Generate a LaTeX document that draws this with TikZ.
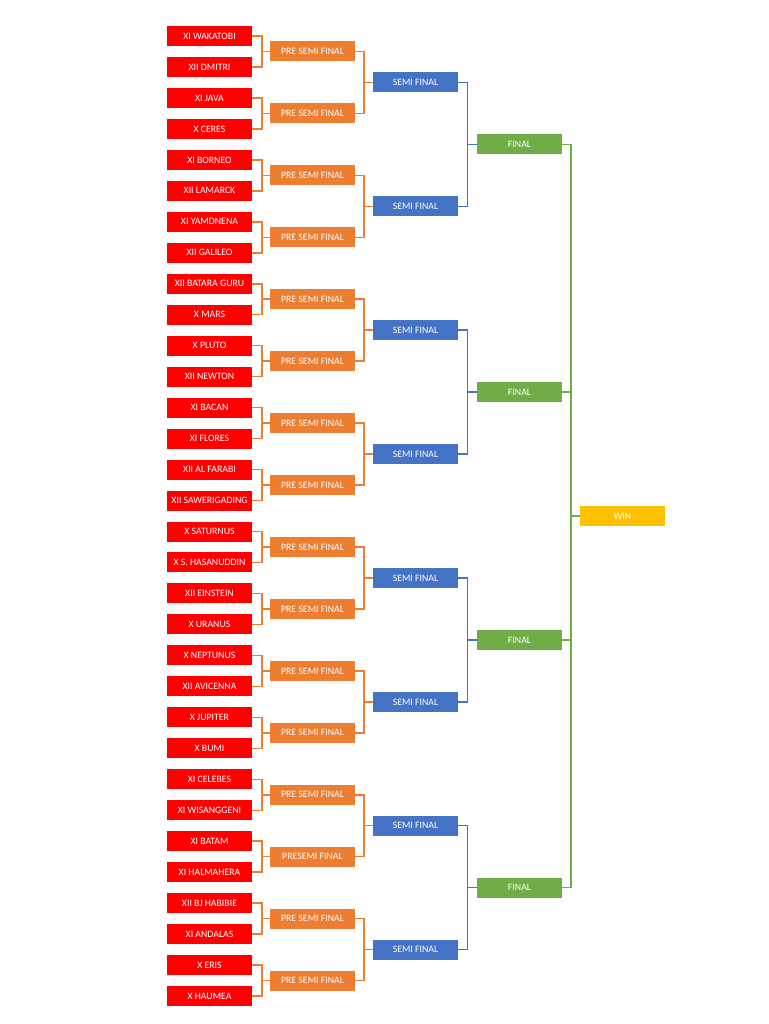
\documentclass[tikz,border=0pt]{standalone}
\usepackage{fontspec}
\setmainfont{Carlito}
\usetikzlibrary{positioning}

\definecolor{teamred}{HTML}{FF0000}
\definecolor{preorange}{HTML}{ED7D31}
\definecolor{semiblue}{HTML}{4472C4}
\definecolor{finalgreen}{HTML}{70AD47}
\definecolor{wingold}{HTML}{FFC000}

\tikzset{
  box/.style={minimum width=85pt, minimum height=20pt, inner sep=0pt,
    text=white, font=\fontsize{9.8}{10}\selectfont},
  team/.style={box, fill=teamred},
  pre/.style={box, fill=preorange},
  semi/.style={box, fill=semiblue},
  fin/.style={box, fill=finalgreen},
  winbox/.style={box, fill=wingold},
  link/.style={line width=1.5pt},
}

\begin{document}
\begin{tikzpicture}[x=1pt, y=-1pt]

\useasboundingbox (0,0) rectangle (768,1024);

% teams
\foreach \name [count=\i] in {XI WAKATOBI, XII DMITRI, XI JAVA, X CERES,
    XI BORNEO, XII LAMARCK, XI YAMDNENA, XII GALILEO,
    XII BATARA GURU, X MARS, X PLUTO, XII NEWTON,
    XI BACAN, XI FLORES, XII AL FARABI, XII SAWERIGADING,
    X SATURNUS, X S. HASANUDDIN, XII EINSTEIN, X URANUS,
    X NEPTUNUS, XII AVICENNA, X JUPITER, X BUMI,
    XI CELEBES, XI WISANGGENI, XI BATAM, XI HALMAHERA,
    XII BJ HABIBIE, XI ANDALAS, X ERIS, X HAUMEA}
  \node[team] (t\i) at (209.5, {36+(\i-1)*30.97}) {\name};

% pre semi final
\foreach \i in {1,...,16}
  \node[pre] (p\i) at (312.5, {36+(2*\i-1.5)*30.97})
    {\ifnum\i=14 PRESEMI FINAL\else PRE SEMI FINAL\fi};

% semi final
\foreach \i in {1,...,8}
  \node[semi] (s\i) at (415.5, {36+(4*\i-2.5)*30.97}) {SEMI FINAL};

% final
\foreach \i in {1,...,4}
  \node[fin] (f\i) at (519.5, {36+(8*\i-4.5)*30.97}) {FINAL};

\node[winbox] (w) at (622.5, {36+15.5*30.97}) {WIN};

% brackets
\foreach \i [evaluate=\i as \j using {int((\i+1)/2)}] in {1,...,32}
  \draw[link, preorange] (t\i.east) -- ++(10,0) |- (p\j.west);
\foreach \i [evaluate=\i as \j using {int((\i+1)/2)}] in {1,...,16}
  \draw[link, preorange] (p\i.east) -- ++(9,0) |- (s\j.west);
\foreach \i [evaluate=\i as \j using {int((\i+1)/2)}] in {1,...,8}
  \draw[link, semiblue] (s\i.east) -- ++(9.5,0) |- (f\j.west);
\foreach \i in {1,...,4}
  \draw[link, finalgreen] (f\i.east) -- ++(9,0) |- (w.west);

\end{tikzpicture}
\end{document}
